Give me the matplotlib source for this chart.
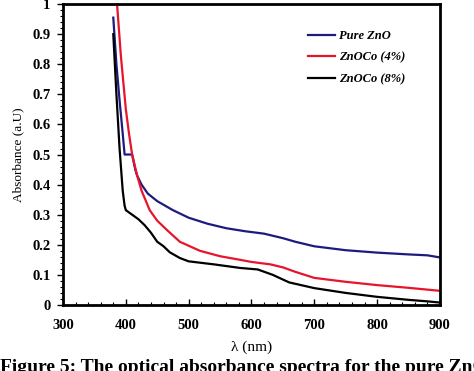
import matplotlib
matplotlib.use("Agg")
import matplotlib.pyplot as plt
from matplotlib.ticker import MultipleLocator

wl_pure = [380, 385, 390, 395, 398, 405, 410, 415, 418, 425, 435, 450, 475, 500, 530, 560, 590, 620, 650, 670, 700, 750, 800, 850, 880, 900]
abs_pure = [0.955, 0.80, 0.68, 0.57, 0.50, 0.50, 0.50, 0.45, 0.43, 0.40, 0.37, 0.345, 0.315, 0.29, 0.27, 0.255, 0.245, 0.237, 0.222, 0.21, 0.195, 0.182, 0.174, 0.168, 0.165, 0.158]

wl_co4 = [386, 392, 400, 405, 410, 418, 425, 438, 450, 465, 486, 518, 550, 582, 600, 630, 650, 670, 700, 750, 800, 850, 900]
abs_co4 = [1.0, 0.83, 0.65, 0.57, 0.50, 0.43, 0.38, 0.315, 0.28, 0.25, 0.21, 0.18, 0.162, 0.15, 0.143, 0.135, 0.125, 0.11, 0.09, 0.077, 0.066, 0.057, 0.047]

wl_co8 = [380, 385, 390, 395, 398, 400, 410, 420, 430, 440, 450, 460, 470, 486, 500, 540, 582, 610, 634, 660, 700, 750, 800, 850, 880, 900]
abs_co8 = [0.90, 0.70, 0.52, 0.38, 0.33, 0.315, 0.30, 0.285, 0.265, 0.24, 0.21, 0.195, 0.175, 0.156, 0.145, 0.135, 0.123, 0.118, 0.10, 0.075, 0.056, 0.04, 0.027, 0.017, 0.012, 0.008]

labels = ["Pure ZnO", "ZnOCo (4%)", "ZnOCo (8%)"]
colors = ["#1c1c7e", "#e8142c", "#000000"]
xticks = [300, 400, 500, 600, 700, 800, 900]
yticks = [0, 0.1, 0.2, 0.3, 0.4, 0.5, 0.6, 0.7, 0.8, 0.9, 1]
ytick_labels = ["0", "0.1", "0.2", "0.3", "0.4", "0.5", "0.6", "0.7", "0.8", "0.9", "1"]

plt.rcParams['font.family'] = ['Liberation Serif', 'DejaVu Serif']

fig = plt.figure(figsize=(4.74, 3.71), dpi=100)
ax = fig.add_axes([0.133, 0.178, 0.795, 0.811])

for wl, a, lab, c in zip([wl_pure, wl_co4, wl_co8], [abs_pure, abs_co4, abs_co8], labels, colors):
    ax.plot(wl, a, color=c, lw=1.6, label=lab)

ax.set_xlim(300, 900)
ax.set_ylim(0, 1)
ax.set_xticks(xticks)
ax.set_yticks(yticks)
ax.set_yticklabels(ytick_labels)
ax.xaxis.set_minor_locator(MultipleLocator(20))
ax.yaxis.set_minor_locator(MultipleLocator(0.02))
for lab in ax.get_xticklabels() + ax.get_yticklabels():
    lab.set_fontweight('bold')
    lab.set_fontsize(10.5)
ax.tick_params(axis='x', which='major', direction='in', length=4, width=1, pad=10)
ax.tick_params(axis='x', which='minor', direction='in', length=2, width=0.8)
ax.tick_params(axis='y', which='major', direction='out', length=4, width=1, pad=5)
ax.tick_params(axis='y', which='minor', direction='out', length=2, width=0.8)
for s in ax.spines.values():
    s.set_linewidth(2)

ax.set_ylabel("Absorbance (a.U)", fontsize=9.5, labelpad=6)
ax.set_xlabel("λ (nm)", fontsize=11, labelpad=6)

leg = ax.legend(loc='upper left', bbox_to_anchor=(0.62, 0.95), frameon=False,
                prop={'style': 'italic', 'weight': 'bold', 'size': 9},
                handlelength=2.2, handletextpad=0.3, labelspacing=0.75)

fig.text(0.0, 0.032, "Figure 5: The optical absorbance spectra for the pure ZnO",
         fontsize=14, fontweight='bold', ha='left', va='top')

fig.savefig("out.png", dpi=100)
